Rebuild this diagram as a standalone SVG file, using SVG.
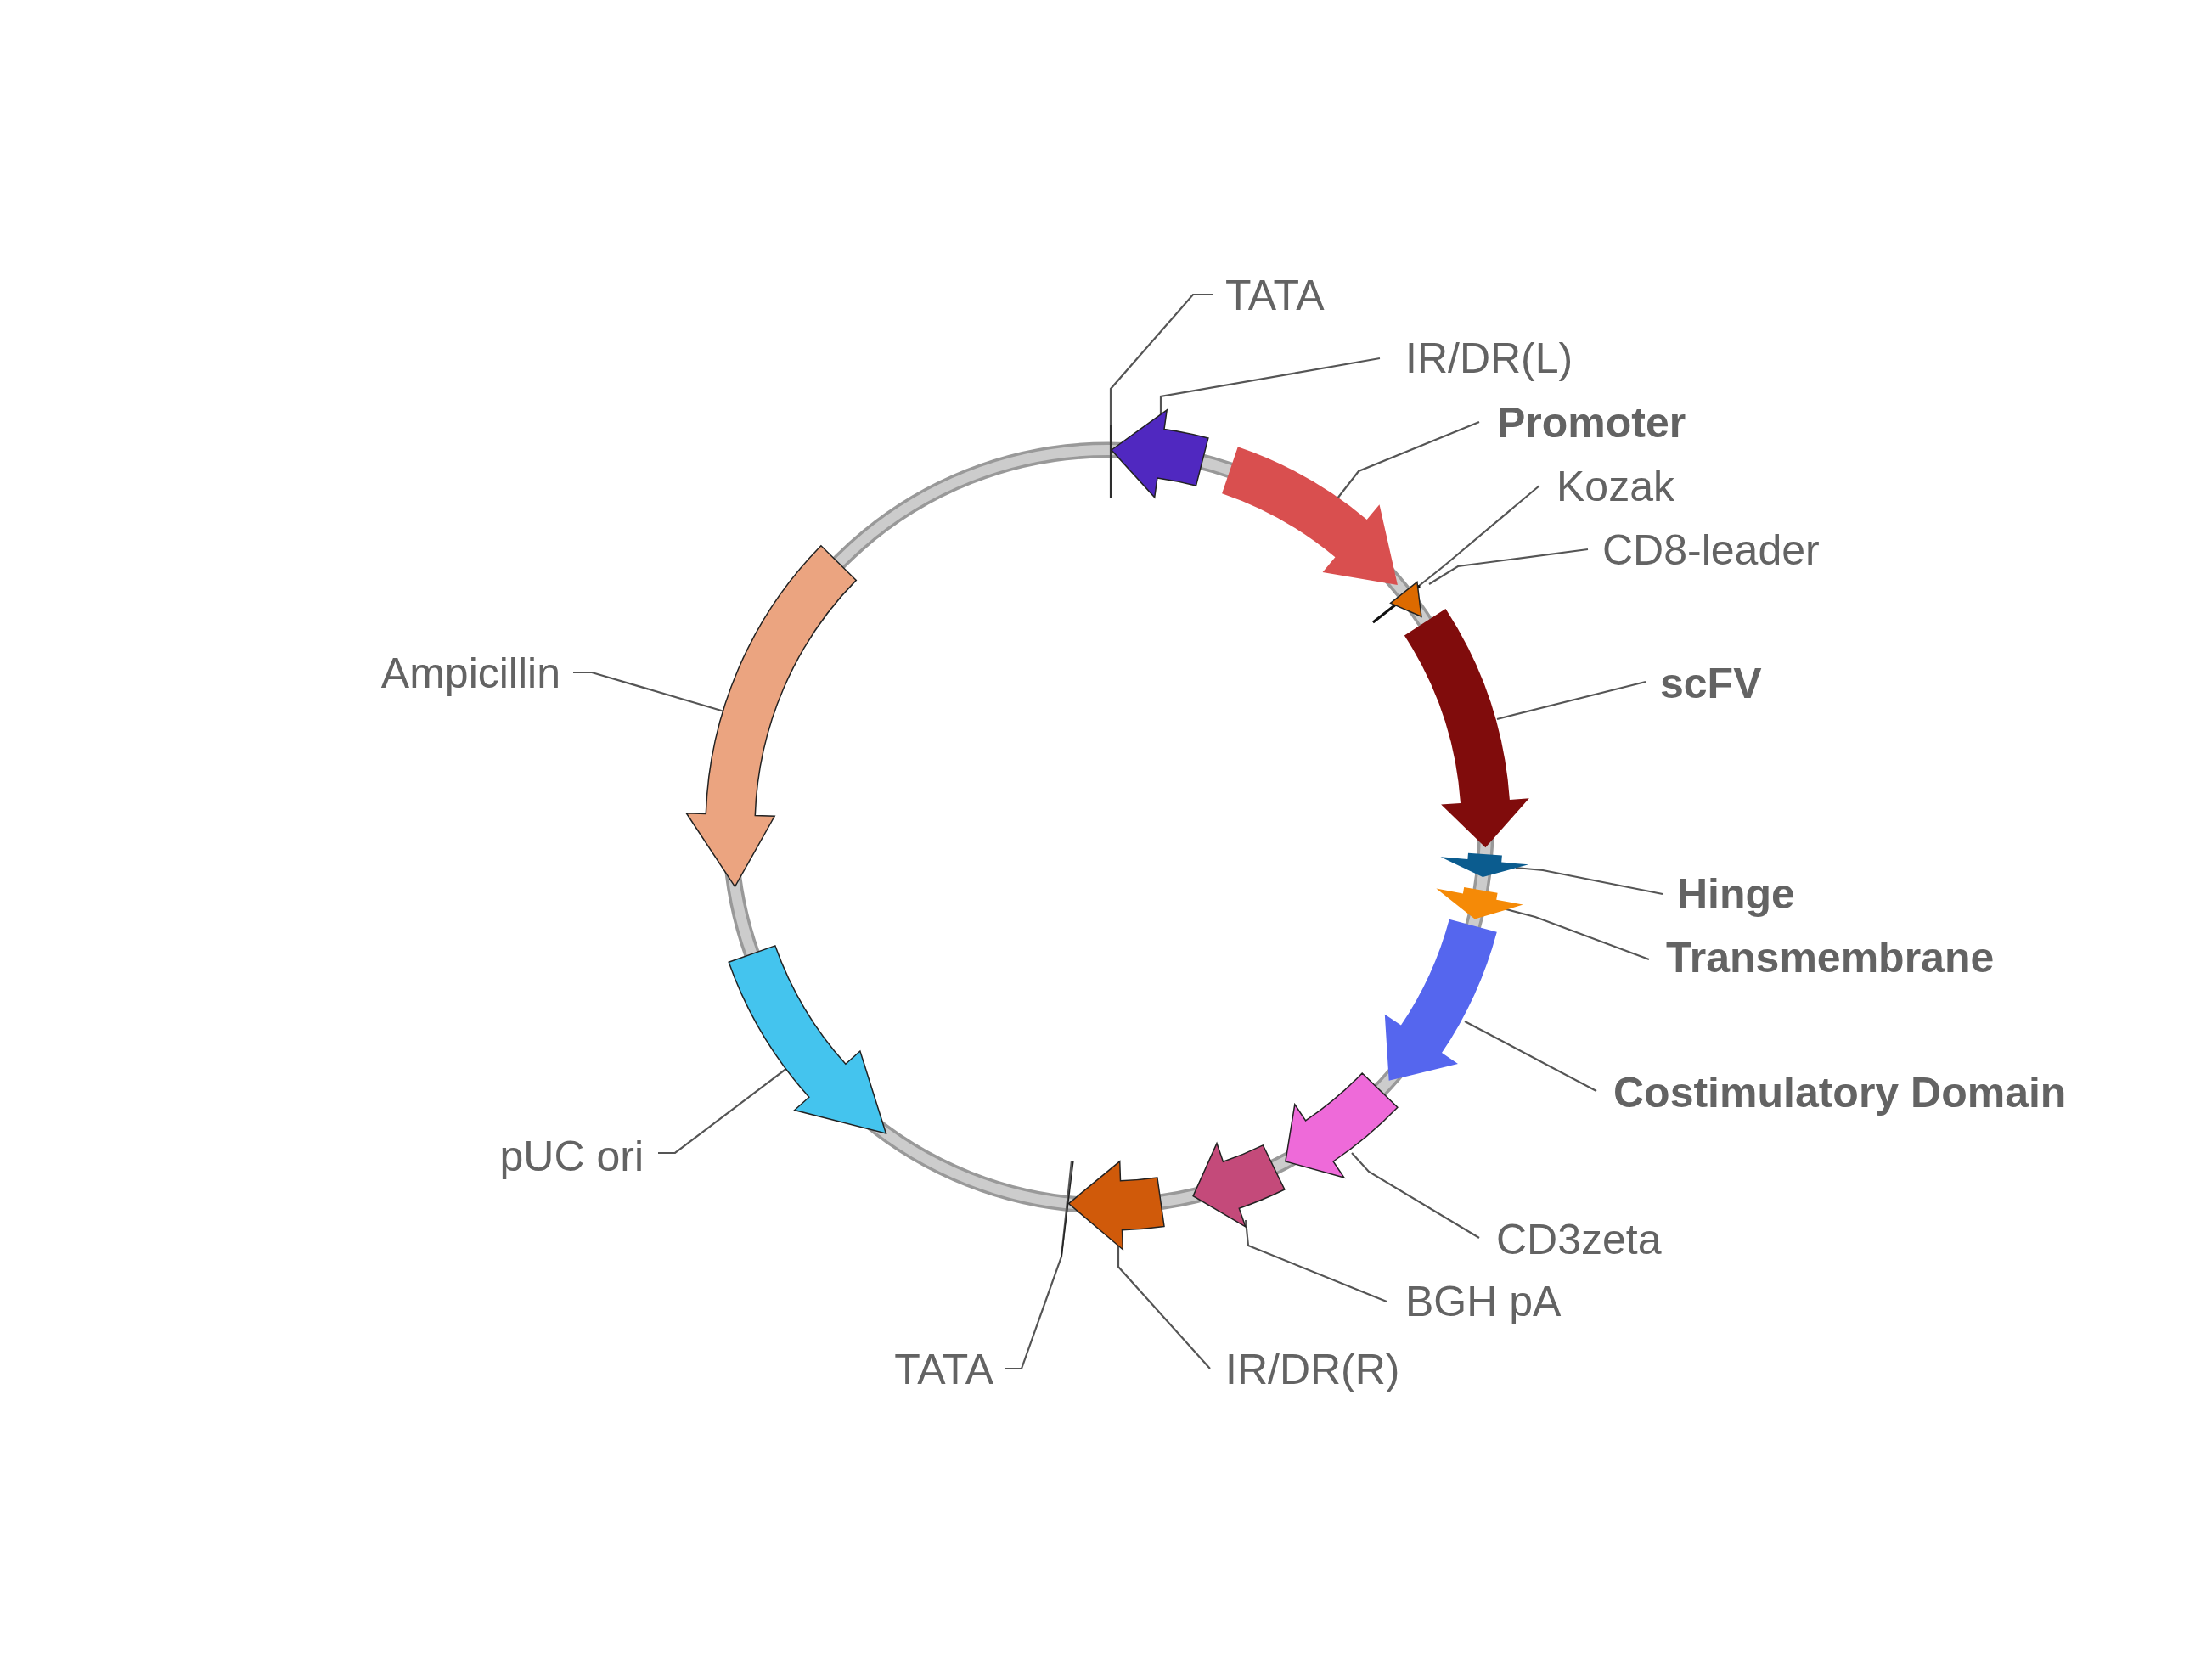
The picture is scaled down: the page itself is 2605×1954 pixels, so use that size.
<svg xmlns="http://www.w3.org/2000/svg" width="2605" height="1954" viewBox="0 0 2605 1954">
<style>
.lbl{font-family:"Liberation Sans",Arial,sans-serif;font-size:50px;fill:#636363}
.b{font-weight:bold}
.ld{fill:none;stroke:#555;stroke-width:2.2}
.ol{stroke:#222;stroke-width:1.5}
</style>
<rect width="2605" height="1954" fill="#fff"/>
<g id="backbone">
<circle cx="1305" cy="975" r="445" fill="none" stroke="#999" stroke-width="19"/>
<circle cx="1305" cy="975" r="445" fill="none" stroke="#ccc" stroke-width="12"/>
</g>
<g id="connectors">
<polyline class="ld" points="1428,347 1405,347 1308,458 1308,587"/>
<polyline class="ld" points="1625,422 1367,467 1367,497"/>
<polyline class="ld" points="1742,497 1600,555 1575,587"/>
<polyline class="ld" points="1813,572 1700,667 1617,733"/>
<polyline class="ld" points="1870,647 1717,667 1683,688"/>
<polyline class="ld" points="1938,803 1763,847"/>
<polyline class="ld" points="1958,1053 1817,1025 1785,1022"/>
<polyline class="ld" points="1942,1130 1808,1080 1770,1070"/>
<polyline class="ld" points="1880,1285 1725,1203"/>
<polyline class="ld" points="1742,1458 1612,1380 1592,1358"/>
<polyline class="ld" points="1633,1533 1470,1467 1467,1437"/>
<polyline class="ld" points="1425,1612 1317,1492 1317,1450"/>
<polyline class="ld" points="1183,1612 1203,1612 1250,1480 1262,1367"/>
<polyline class="ld" points="775,1358 795,1358 927,1258"/>
<polyline class="ld" points="675,792 697,792 853,838"/>
</g>
<g id="irdrl"><path class="ol" fill="#5028c0" d="M1422.9,515.9 A474,474 0 0 0 1371.0,505.6 L1374.2,482.8 L1308.9,530.0 L1359.7,585.8 L1362.9,563.0 A416,416 0 0 1 1408.5,572.1 Z"/></g>
<g id="promoter"><path fill="#d94f4f" d="M1457.8,526.3 A474,474 0 0 1 1609.7,611.9 L1624.5,594.3 L1645.9,689.0 L1557.6,674.0 L1572.4,656.3 A416,416 0 0 0 1439.1,581.2 Z"/></g>
<g id="kozak"><line x1="1617" y1="733" x2="1672" y2="690" stroke="#111" stroke-width="3"/></g>
<g id="cd8"><path class="ol" fill="#dd6a00" d="M1668.9,685.5 L1673.9,726.2 L1637.6,710.4 Z"/></g>
<g id="scfv"><path fill="#800c0c" d="M1702.5,716.9 A474,474 0 0 1 1777.9,941.9 L1800.8,940.3 L1749.4,998.3 L1697.1,947.6 L1720.0,946.0 A416,416 0 0 0 1653.9,748.4 Z"/></g>
<g id="hinge"><path fill="#0b5c8f" d="M1729.0,1004.7 L1768.9,1007.4 L1768.2,1015.6 L1800.1,1018.3 L1746.2,1033.1 L1696.5,1009.3 L1728.4,1012.1 Z"/></g>
<g id="tm"><path fill="#f58a07" d="M1724.2,1045.1 L1763.6,1051.7 L1762.2,1059.7 L1793.7,1065.6 L1736.8,1082.6 L1691.4,1046.6 L1722.9,1052.4 Z"/></g>
<g id="costim"><path fill="#5566ee" d="M1762.8,1097.7 A474,474 0 0 1 1698.0,1240.1 L1717.0,1252.9 L1635.7,1272.8 L1630.8,1194.8 L1649.9,1207.6 A416,416 0 0 0 1706.8,1082.7 Z"/></g>
<g id="cd3z"><path class="ol" fill="#ee6ad9" d="M1645.9,1304.3 A474,474 0 0 1 1570.1,1368.0 L1582.9,1387.0 L1513.9,1367.9 L1524.8,1300.8 L1537.6,1319.9 A416,416 0 0 0 1604.2,1264.0 Z"/></g>
<g id="bgh"><path class="ol" fill="#c44a7a" d="M1512.8,1401.0 A474,474 0 0 1 1459.3,1423.2 L1466.8,1444.9 L1405.1,1408.6 L1433.0,1346.6 L1440.4,1368.3 A416,416 0 0 0 1487.4,1348.9 Z"/></g>
<g id="irdrr"><path class="ol" fill="#d05a0a" d="M1371.0,1444.4 A474,474 0 0 1 1321.5,1448.7 L1322.3,1471.7 L1258.5,1417.6 L1318.7,1367.8 L1319.5,1390.8 A416,416 0 0 0 1362.9,1387.0 Z"/></g>
<g id="puc"><path class="ol" fill="#44c4ee" d="M858.2,1133.2 A474,474 0 0 0 952.8,1292.2 L935.7,1307.5 L1043.4,1335.0 L1012.9,1238.0 L995.9,1253.3 A416,416 0 0 1 912.9,1113.9 Z"/></g>
<g id="amp"><path class="ol" fill="#eba480" d="M966.9,642.8 A474,474 0 0 0 831.3,958.5 L808.3,957.7 L865.5,1044.4 L912.2,961.3 L889.3,960.5 A416,416 0 0 1 1008.3,683.4 Z"/></g>
<g id="ticks">
<line x1="1308" y1="500" x2="1308" y2="587" stroke="#222" stroke-width="1.5"/>
<line x1="1264" y1="1367" x2="1250" y2="1480" stroke="#222" stroke-width="1.5"/>
</g>
<g id="labels">
<text class="lbl" x="1443" y="365">TATA</text>
<text class="lbl" x="1655" y="439">IR/DR(L)</text>
<text class="lbl b" x="1763" y="515">Promoter</text>
<text class="lbl" x="1833" y="590">Kozak</text>
<text class="lbl" x="1887" y="665">CD8-leader</text>
<text class="lbl b" x="1955" y="822">scFV</text>
<text class="lbl b" x="1975" y="1070">Hinge</text>
<text class="lbl b" x="1962" y="1145">Transmembrane</text>
<text class="lbl b" x="1900" y="1304">Costimulatory Domain</text>
<text class="lbl" x="1762" y="1477">CD3zeta</text>
<text class="lbl" x="1655" y="1550">BGH pA</text>
<text class="lbl" x="1443" y="1630">IR/DR(R)</text>
<text class="lbl" x="1170" y="1630" text-anchor="end">TATA</text>
<text class="lbl" x="758" y="1379" text-anchor="end">pUC ori</text>
<text class="lbl" x="660" y="810" text-anchor="end">Ampicillin</text>
</g>
</svg>
